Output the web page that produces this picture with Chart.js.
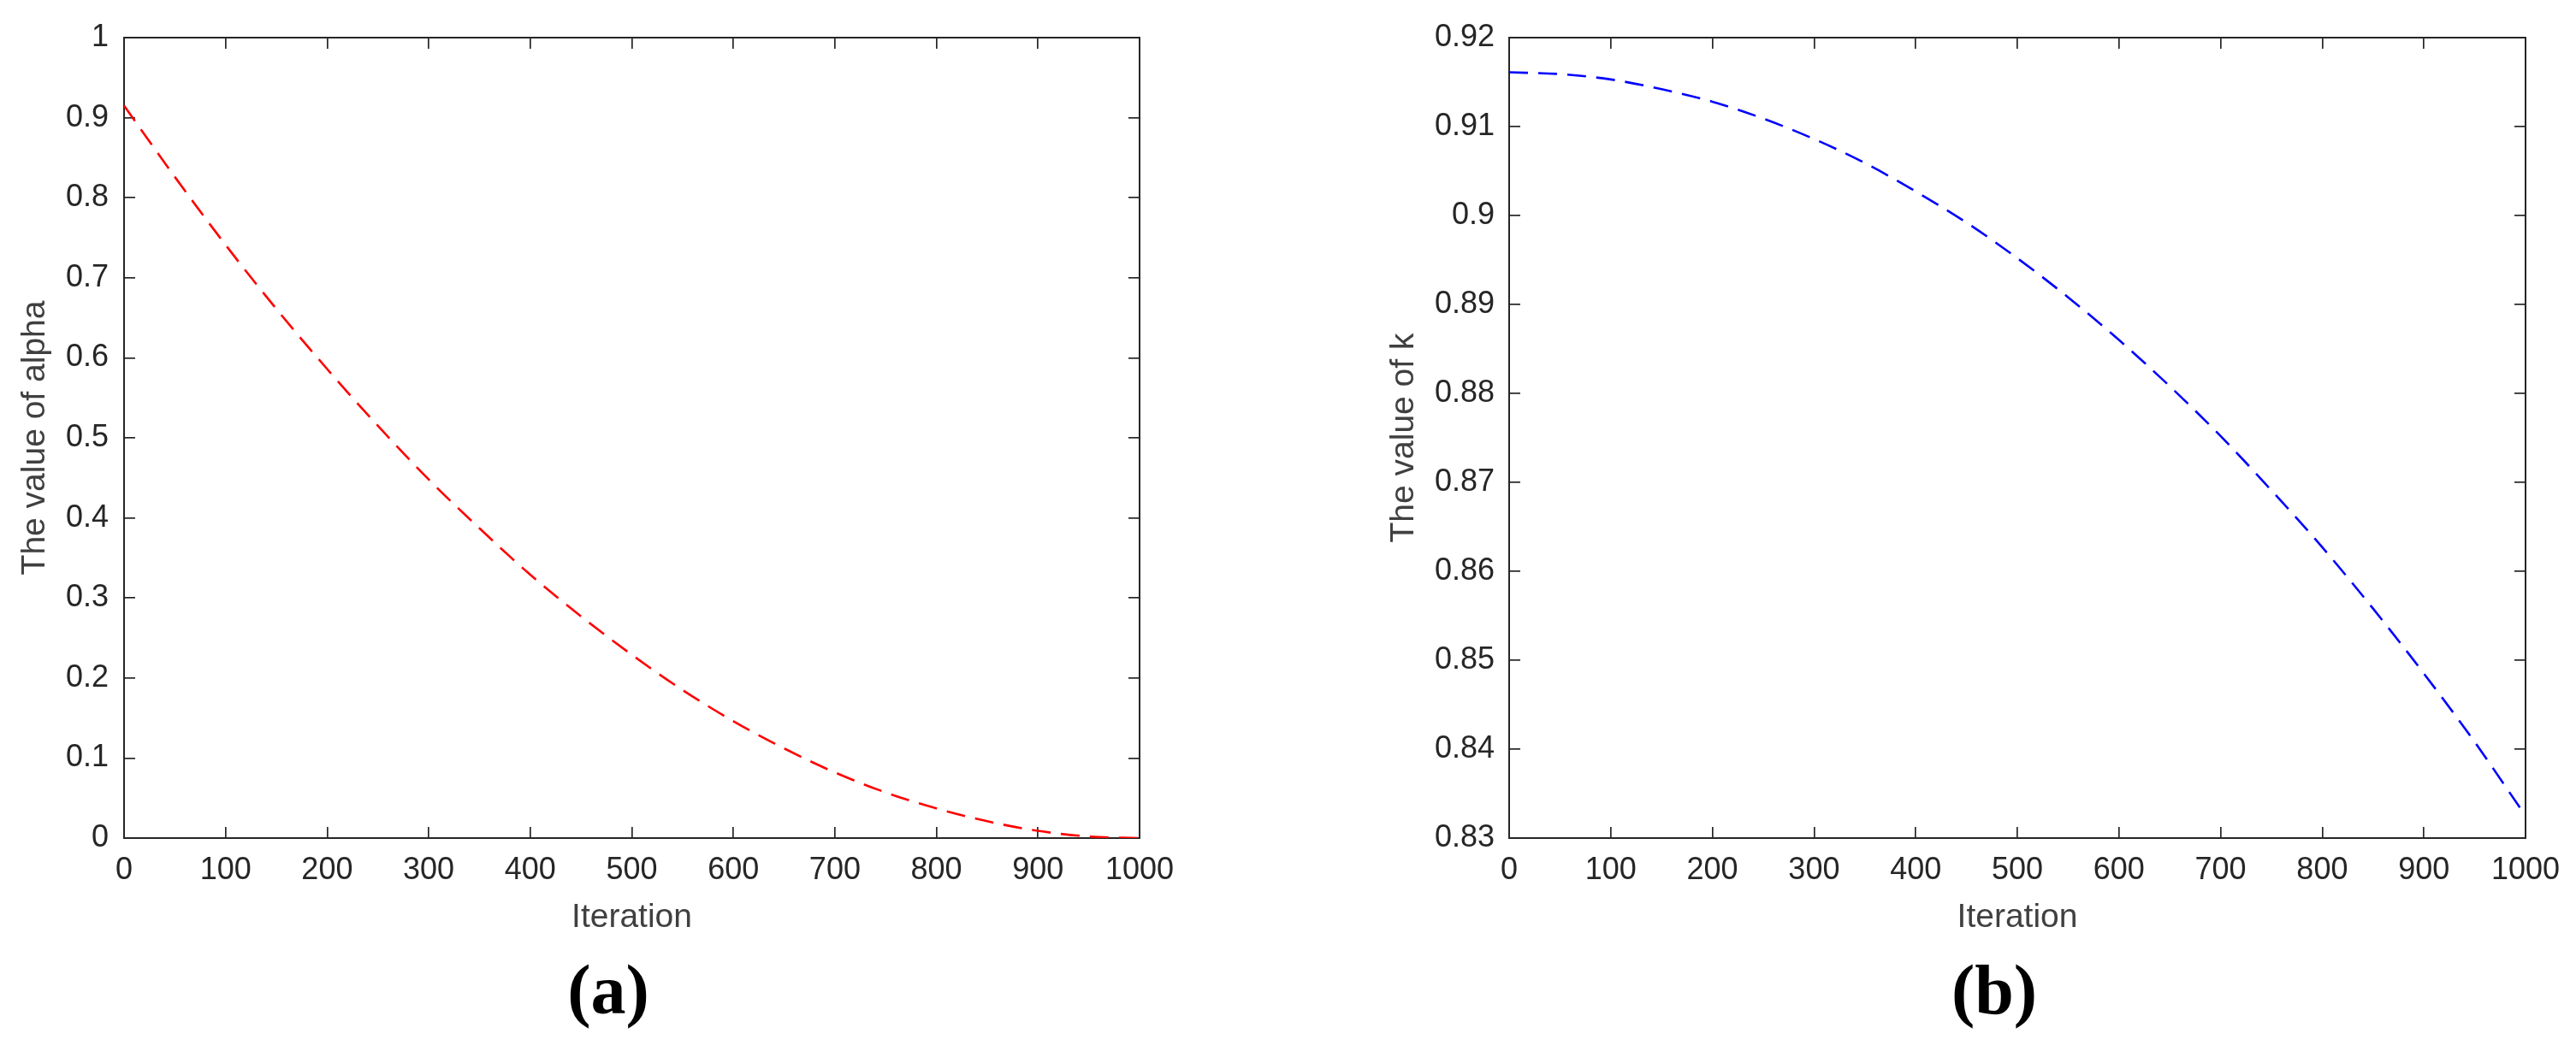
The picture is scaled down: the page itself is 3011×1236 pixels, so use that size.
<!DOCTYPE html>
<html><head><meta charset="utf-8">
<script src="https://cdn.jsdelivr.net/npm/chart.js@4.4.0/dist/chart.umd.min.js"></script>
<style>
html,body{margin:0;padding:0;background:#fff;overflow:hidden;width:3011px;height:1236px}
canvas{position:absolute;top:0}
</style></head>
<body>
<canvas id="ca" width="1422" height="1236" style="left:0px"></canvas>
<canvas id="cb" width="1511" height="1236" style="left:1500px"></canvas>
<script>
const iterations = [0,50,100,150,200,250,300,350,400,450,500,550,600,650,700,750,800,850,900,950,1000];
const alphaValues = [0.915,0.826,0.741,0.661,0.586,0.515,0.448,0.387,0.329,0.277,0.229,0.185,0.146,0.112,0.082,0.057,0.037,0.021,0.009,0.002,0.000];
const kValues = [0.9161,0.9159,0.9153,0.9142,0.9128,0.9109,0.9086,0.9059,0.9027,0.8992,0.8952,0.8908,0.8860,0.8808,0.8752,0.8691,0.8627,0.8558,0.8485,0.8408,0.8325];
const xTicks = [0,100,200,300,400,500,600,700,800,900,1000];
const alphaTicks = [0,0.1,0.2,0.3,0.4,0.5,0.6,0.7,0.8,0.9,1];
const kTicks = [0.83,0.84,0.85,0.86,0.87,0.88,0.89,0.9,0.91,0.92];
const xTitle = 'Iteration';
const yTitles = ['The value of alpha','The value of k'];
const panelLabels = ['(a)','(b)'];

const axisColor = '#262626';
const sans = "'Liberation Sans', Arial, Helvetica, sans-serif";
const serif = "'Liberation Serif', 'Times New Roman', serif";

function fixedTicks(arr){ return function(scale){ scale.ticks = arr.map(v => ({value: v})); }; }
function fmt(v){ return String(Number(Number(v).toFixed(3))); }

function makeChart(id, values, yTicks, color, yTitle, panel, L){
  const grid = {drawOnChartArea:false, drawTicks:true, tickLength:-13, color:axisColor, lineWidth:1.7};
  const border = {display:true, color:axisColor, width:2};
  const tickFont = {family:sans, size:36, lineHeight:1};
  const titleFont = {family:sans, size:39, lineHeight:1};
  const yMin = yTicks[0], yMax = yTicks[yTicks.length-1];
  return new Chart(document.getElementById(id), {
    type:'line',
    data:{datasets:[{
      data: iterations.map((x,i)=>({x:x, y:values[i]})),
      borderColor: color, borderWidth: 2.6, borderDash:[22,12],
      pointRadius:0, fill:false, cubicInterpolationMode:'monotone'
    }]},
    options:{
      responsive:false, animation:false, devicePixelRatio:1,
      layout:{padding:{left:L.padLeft, right:0, top:0, bottom:31}},
      plugins:{
        legend:{display:false}, tooltip:{enabled:false},
        title:{display:true, text:panel, position:'bottom', color:'#000',
          font:{family:serif, size:82, weight:'bold', lineHeight:1}, padding:{top:0,bottom:0}}
      },
      scales:{
        x:{type:'linear', position:'bottom', min:0, max:1000,
          afterBuildTicks: fixedTicks(xTicks), grid:grid, border:border,
          ticks:{color:axisColor, font:tickFont, padding:33.5, maxRotation:0, autoSkip:false, callback:(v)=>fmt(v)},
          title:{display:true, text:xTitle, color:'#404040', font:titleFont, padding:{top:0,bottom:30}},
          afterFit:(s)=>{ s.height = 143; s.paddingLeft = 0; s.paddingRight = 0; }
        },
        x2:{type:'linear', position:'top', min:0, max:1000,
          afterBuildTicks: fixedTicks(xTicks), grid:grid, border:border,
          ticks:{display:false},
          afterFit:(s)=>{ s.height = 44; s.paddingLeft = 0; s.paddingRight = 0; }
        },
        y:{type:'linear', position:'left', min:yMin, max:yMax,
          afterBuildTicks: fixedTicks(yTicks), grid:grid, border:border,
          ticks:{color:axisColor, font:tickFont, padding:L.tickPad, autoSkip:false, callback:(v)=>fmt(v)},
          title:{display:true, text:yTitle, color:'#404040', font:titleFont, padding:{top:L.titlePad,bottom:0}},
          afterFit:(s)=>{ s.width = L.yWidth; s.paddingTop = 0; s.paddingBottom = 0; }
        },
        y2:{type:'linear', position:'right', min:yMin, max:yMax,
          afterBuildTicks: fixedTicks(yTicks), grid:grid, border:border,
          ticks:{display:false},
          afterFit:(s)=>{ s.width = L.rWidth; s.paddingTop = 0; s.paddingBottom = 0; }
        }
      }
    }
  });
}

makeChart('ca', alphaValues, alphaTicks, '#ff0000', yTitles[0], panelLabels[0],
  {padLeft:0, yWidth:145, rWidth:90, tickPad:31, titlePad:22});
makeChart('cb', kValues, kTicks, '#0000ff', yTitles[1], panelLabels[1],
  {padLeft:151, yWidth:113, rWidth:59, tickPad:30, titlePad:-29});
</script>
</body></html>
